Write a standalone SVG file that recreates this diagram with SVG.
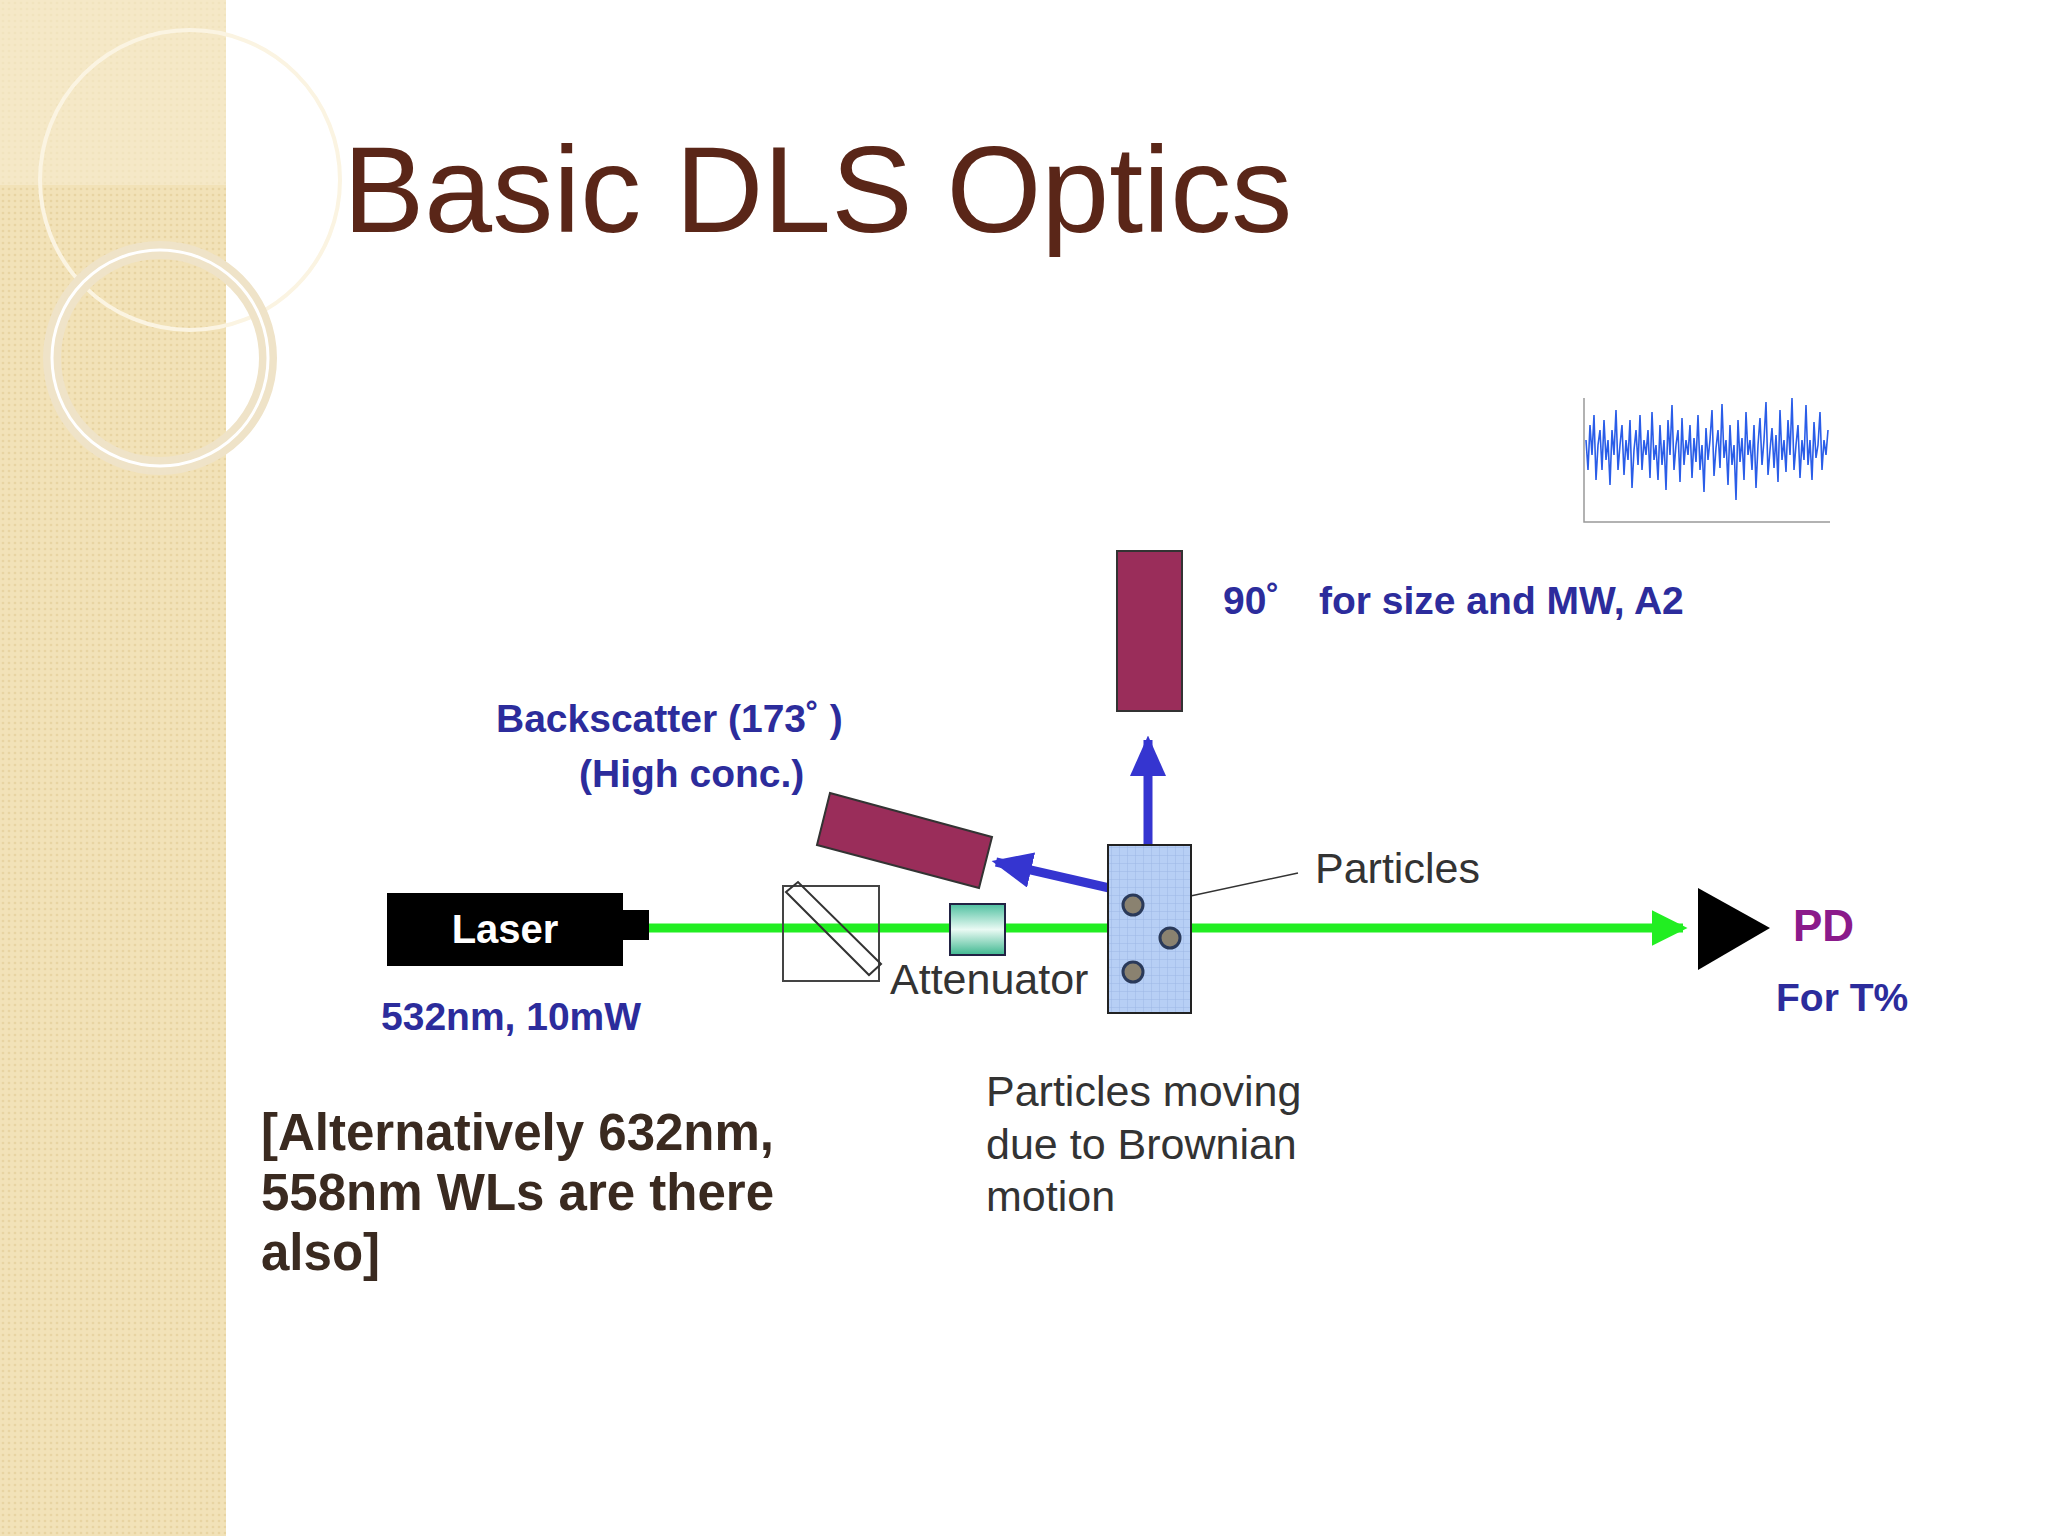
<svg xmlns="http://www.w3.org/2000/svg" width="2048" height="1536" viewBox="0 0 2048 1536">
<defs>
<pattern id="dots" width="6" height="6" patternUnits="userSpaceOnUse"><rect width="6" height="6" fill="#f2e2b8"/><circle cx="3" cy="3" r="1.3" fill="#e8d4a2"/></pattern>
<pattern id="grid" width="8" height="8" patternUnits="userSpaceOnUse"><rect width="8" height="8" fill="#b7cff5"/><path d="M8 0V8M0 8H8" stroke="#9db8e6" stroke-width="1"/></pattern>
<linearGradient id="att" x1="0" y1="0" x2="0" y2="1"><stop offset="0" stop-color="#4fc0a0"/><stop offset="0.5" stop-color="#eafaf4"/><stop offset="1" stop-color="#3fb890"/></linearGradient>
<marker id="ga" markerWidth="4" markerHeight="4" refX="3.5" refY="2" orient="auto" markerUnits="strokeWidth"><path d="M0,0 L4,2 L0,4 Z" fill="#22ee22"/></marker>
<marker id="ba" markerWidth="4.5" markerHeight="4" refX="4" refY="2" orient="auto" markerUnits="strokeWidth"><path d="M0,0 L4.5,2 L0,4 Z" fill="#3535d0"/></marker>
<style>
.blue{font-family:"Liberation Sans",Arial,sans-serif;font-weight:bold;fill:#2c2c9c;font-size:39px}
.gray{font-family:"Liberation Sans",Arial,sans-serif;fill:#333;font-size:43px}
.det{fill:#9a2d5a;stroke:#333;stroke-width:2}
.part{fill:#8a8270;stroke:#2a3a5a;stroke-width:3}
</style>
</defs>
<rect width="2048" height="1536" fill="#fff"/>
<g id="sidebar">
<rect width="226" height="1536" fill="url(#dots)"/>
<rect x="0" y="0" width="226" height="185" fill="#f7ecd0" opacity="0.6"/>
<circle cx="190" cy="180" r="150" fill="none" stroke="#fbf4e2" stroke-width="4"/>
<circle cx="160" cy="358" r="108" fill="none" stroke="#efe3c8" stroke-width="18"/>
<circle cx="160" cy="358" r="108" fill="none" stroke="#fff" stroke-width="3"/>
</g>
<text id="title" x="343" y="232" font-family="Liberation Sans,Arial,sans-serif" font-size="122" fill="#5a2618">Basic DLS Optics</text>
<g id="graph">
<path d="M1584 398V522H1830" fill="none" stroke="#999" stroke-width="1.5"/>
<polyline fill="none" stroke="#2a5de8" stroke-width="1.6" points="1586,440 1588,470 1590,425 1592,455 1594,415 1596,480 1598,445 1600,430 1602,470 1604,420 1606,460 1608,440 1610,485 1612,430 1614,455 1616,410 1618,470 1620,445 1622,425 1624,475 1626,440 1628,460 1630,420 1632,488 1634,450 1636,430 1638,465 1640,415 1642,470 1644,440 1646,455 1648,430 1650,478 1652,412 1654,460 1656,445 1658,480 1660,425 1662,465 1664,440 1666,490 1668,420 1670,455 1672,405 1674,470 1676,445 1678,430 1680,482 1682,418 1684,465 1686,440 1688,455 1690,425 1692,478 1694,438 1696,462 1698,415 1700,470 1702,445 1704,492 1706,428 1708,460 1710,440 1712,410 1714,476 1716,448 1718,430 1720,468 1722,404 1724,458 1726,440 1728,485 1730,425 1732,465 1734,445 1736,500 1738,420 1740,462 1742,438 1744,480 1746,412 1748,455 1750,440 1752,470 1754,425 1756,488 1758,445 1760,418 1762,465 1764,440 1766,402 1768,475 1770,450 1772,428 1774,468 1776,435 1778,482 1780,410 1782,460 1784,440 1786,472 1788,420 1790,455 1792,398 1794,470 1796,445 1798,425 1800,478 1802,440 1804,460 1806,405 1808,465 1810,440 1812,480 1814,422 1816,458 1818,445 1820,412 1822,470 1824,440 1826,455 1828,430"/>
</g>
<g id="connectors">
<line x1="649" y1="928" x2="1683" y2="928" stroke="#22ee22" stroke-width="9" marker-end="url(#ga)"/>
<line x1="1148" y1="893" x2="1148" y2="740" stroke="#3535d0" stroke-width="9" marker-end="url(#ba)"/>
<line x1="1118" y1="890" x2="996" y2="862" stroke="#3535d0" stroke-width="9" marker-end="url(#ba)"/>
<line x1="1158" y1="903" x2="1298" y2="873" stroke="#333" stroke-width="1.5"/>
</g>
<g id="laser">
<rect x="387" y="893" width="236" height="73" fill="#000"/>
<rect x="622" y="910" width="27" height="30" fill="#000"/>
<text x="505" y="943" text-anchor="middle" font-family="Liberation Sans,Arial,sans-serif" font-weight="bold" font-size="40" fill="#fff">Laser</text>
<text x="381" y="1030" class="blue">532nm, 10mW</text>
</g>
<g id="beamsplitter">
<rect x="783" y="886" width="96" height="95" fill="none" stroke="#444" stroke-width="2"/>
<polygon points="786,892 798,882 881,964 869,975" fill="none" stroke="#333" stroke-width="2"/>
</g>
<g id="attenuator">
<rect x="950" y="904" width="55" height="51" fill="url(#att)" stroke="#224" stroke-width="2"/>
<text x="890" y="994" class="gray" font-size="39">Attenuator</text>
</g>
<g id="cuvette">
<rect x="1108" y="845" width="83" height="168" fill="url(#grid)" stroke="#222" stroke-width="2"/>
<circle cx="1133" cy="905" r="10" class="part"/>
<circle cx="1170" cy="938" r="10" class="part"/>
<circle cx="1133" cy="972" r="10" class="part"/>
</g>
<g id="det90">
<rect x="1117" y="551" width="65" height="160" class="det"/>
<text x="1223" y="614" class="blue">90˚</text>
<text x="1319" y="614" class="blue">for size and MW, A2</text>
</g>
<g id="backscatter">
<polygon points="830,793 992,837 979,888 817,845" class="det"/>
<text x="496" y="732" class="blue">Backscatter (173˚  )</text>
<text x="579" y="787" class="blue" font-size="35">(High conc.)</text>
</g>
<g id="pd">
<polygon points="1698,888 1698,970 1770,928" fill="#000"/>
<text x="1793" y="941" font-family="Liberation Sans,Arial,sans-serif" font-weight="bold" font-size="44" fill="#8b1a8b">PD</text>
<text x="1776" y="1011" class="blue">For T%</text>
</g>
<text x="1315" y="883" class="gray" font-size="41">Particles</text>
<g class="gray">
<text x="986" y="1106">Particles moving</text>
<text x="986" y="1159">due to Brownian</text>
<text x="986" y="1211">motion</text>
</g>
<g font-family="Liberation Sans,Arial,sans-serif" font-weight="bold" font-size="51" fill="#3a2a20">
<text x="261" y="1150">[Alternatively 632nm,</text>
<text x="261" y="1210">558nm WLs are there</text>
<text x="261" y="1270">also]</text>
</g>
</svg>
